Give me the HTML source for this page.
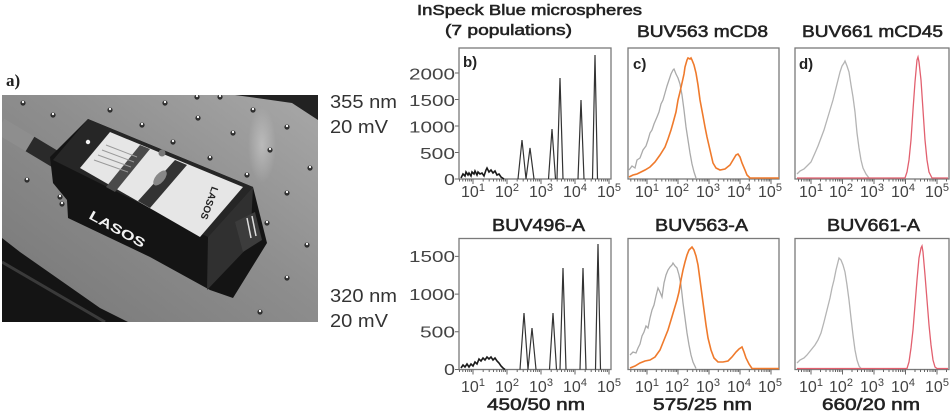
<!DOCTYPE html>
<html><head><meta charset="utf-8"><style>html,body{margin:0;padding:0;background:#fff;width:950px;height:415px;overflow:hidden}svg{display:block}</style></head>
<body>
<svg width="950" height="415" viewBox="0 0 950 415" xmlns="http://www.w3.org/2000/svg" font-family="'Liberation Sans', sans-serif">
<defs>
<clipPath id="ph"><rect x="2" y="95" width="316" height="227"/></clipPath>
<linearGradient id="tg" x1="1" y1="0" x2="0" y2="1"><stop offset="0" stop-color="#a8a8a8"/><stop offset="0.45" stop-color="#8e8e8e"/><stop offset="1" stop-color="#767676"/></linearGradient>
<radialGradient id="gl" cx="0.5" cy="0.5" r="0.5"><stop offset="0" stop-color="#d8d8d8" stop-opacity="0.5"/><stop offset="1" stop-color="#d8d8d8" stop-opacity="0"/></radialGradient>
</defs>
<rect width="950" height="415" fill="#fff"/>

<!-- PHOTO -->
<g clip-path="url(#ph)">
<rect x="2" y="95" width="316" height="227" fill="url(#tg)"/>
<ellipse cx="262" cy="145" rx="14" ry="38" fill="url(#gl)"/>
<polygon points="235,95 318,95 318,120 292,103" fill="#222"/>
<polygon points="2,238 2,322 128,322 100,308 60,280 20,252" fill="#141414"/>
<line x1="2" y1="262" x2="105" y2="322" stroke="#3a3a3a" stroke-width="3"/>
<!-- holes -->
<g fill="#2e2e2e">
<circle cx="23" cy="103" r="2.6"/><circle cx="53" cy="115" r="2.6"/><circle cx="110" cy="110" r="2.6"/><circle cx="165" cy="103" r="2.6"/><circle cx="197" cy="97" r="2.6"/><circle cx="220" cy="97" r="2.6"/><circle cx="253" cy="110" r="2.6"/><circle cx="287" cy="127" r="2.6"/><circle cx="142" cy="125" r="2.6"/><circle cx="173" cy="142" r="2.6"/><circle cx="198" cy="118" r="2.6"/><circle cx="233" cy="133" r="2.6"/><circle cx="270" cy="150" r="2.6"/><circle cx="210" cy="158" r="2.6"/><circle cx="247" cy="175" r="2.6"/><circle cx="310" cy="168" r="2.6"/><circle cx="287" cy="193" r="2.6"/><circle cx="27" cy="180" r="2.6"/><circle cx="60" cy="197" r="2.6"/><circle cx="267" cy="223" r="2.6"/><circle cx="307" cy="245" r="2.6"/><circle cx="287" cy="278" r="2.6"/><circle cx="260" cy="312" r="2.6"/><circle cx="62" cy="204" r="2.6"/>
</g>
<g fill="#f4f4f4">
<circle cx="23" cy="102" r="1.2"/><circle cx="53" cy="114" r="1.2"/><circle cx="110" cy="109" r="1.2"/><circle cx="165" cy="102" r="1.2"/><circle cx="197" cy="96" r="1.2"/><circle cx="220" cy="96" r="1.2"/><circle cx="253" cy="109" r="1.2"/><circle cx="287" cy="126" r="1.2"/><circle cx="142" cy="124" r="1.2"/><circle cx="173" cy="141" r="1.2"/><circle cx="198" cy="117" r="1.2"/><circle cx="233" cy="132" r="1.2"/><circle cx="270" cy="149" r="1.2"/><circle cx="210" cy="157" r="1.2"/><circle cx="247" cy="174" r="1.2"/><circle cx="310" cy="167" r="1.2"/><circle cx="287" cy="192" r="1.2"/><circle cx="27" cy="179" r="1.2"/><circle cx="60" cy="196" r="1.2"/><circle cx="267" cy="222" r="1.2"/><circle cx="307" cy="244" r="1.2"/><circle cx="287" cy="277" r="1.2"/><circle cx="260" cy="311" r="1.2"/><circle cx="62" cy="203" r="1.2"/>
</g>
<!-- cable -->
<line x1="0" y1="126" x2="55" y2="159" stroke="#8e8e8e" stroke-width="17"/>
<line x1="30" y1="144" x2="60" y2="162" stroke="#2a2a2a" stroke-width="17"/>
<!-- box silhouette -->
<polygon points="50,157 88,119 253,187 267,243 233,298 210,290 150,257 68,218 67,200 53,183" fill="#141414"/>
<polygon points="88,119 253,187 208,237 53,160" fill="#262626"/>
<polygon points="253,187 208,237 207,290 250,245" fill="#303030"/>
<polygon points="235,222 255,212 262,240 243,252" fill="#3c3c3c"/>
<line x1="247" y1="218" x2="251" y2="238" stroke="#ddd" stroke-width="1.5"/>
<line x1="252" y1="216" x2="256" y2="236" stroke="#ddd" stroke-width="1.5"/>
<circle cx="88" cy="142" r="2.2" fill="#f4f4f4"/>
<!-- label -->
<polygon points="110,132 243,187 200,237 80,168" fill="#e6e6e6"/>
<polygon points="175,160 187,165 150,208 138,201" fill="#333"/>
<polygon points="140,145 150,149 115,192 106,187" fill="#4a4a4a"/>
<g stroke="#999" stroke-width="1">
<line x1="94" y1="160" x2="128" y2="172"/><line x1="98" y1="155" x2="131" y2="167"/><line x1="102" y1="150" x2="134" y2="162"/><line x1="106" y1="145" x2="137" y2="157"/>
</g>
<circle cx="162" cy="153" r="3.5" fill="#777"/>
<ellipse cx="160" cy="178" rx="9" ry="4.5" fill="#888" transform="rotate(-50 160 178)"/>
<text x="0" y="0" font-size="10" font-weight="bold" fill="#222" transform="translate(212,186) rotate(110)" textLength="34" lengthAdjust="spacingAndGlyphs">LASOS</text>
<text x="0" y="0" font-size="13" font-weight="bold" fill="#f2f2f2" transform="translate(88,218) rotate(29)" textLength="62" lengthAdjust="spacingAndGlyphs">LASOS</text>
</g>

<!-- left labels -->
<text x="6" y="86" font-family="'Liberation Serif', serif" font-weight="bold" font-size="17" fill="#222">a)</text>
<g font-size="18" fill="#333">
<text x="330" y="108" textLength="67" lengthAdjust="spacingAndGlyphs">355 nm</text>
<text x="330" y="133" textLength="58" lengthAdjust="spacingAndGlyphs">20 mV</text>
<text x="330" y="302" textLength="67" lengthAdjust="spacingAndGlyphs">320 nm</text>
<text x="330" y="327" textLength="58" lengthAdjust="spacingAndGlyphs">20 mV</text>
</g>

<!-- titles -->
<g fill="#222" stroke="#222" stroke-width="0.55">
<text x="417" y="15" font-size="15" textLength="225" lengthAdjust="spacingAndGlyphs">InSpeck Blue microspheres</text>
<text x="445" y="35" font-size="15" textLength="127" lengthAdjust="spacingAndGlyphs">(7 populations)</text>
<text x="637" y="37" font-size="16.5" textLength="131" lengthAdjust="spacingAndGlyphs">BUV563 mCD8</text>
<text x="802" y="37" font-size="16.5" textLength="141" lengthAdjust="spacingAndGlyphs">BUV661 mCD45</text>
<text x="492" y="231" font-size="17.5" textLength="93" lengthAdjust="spacingAndGlyphs">BUV496-A</text>
<text x="655" y="231" font-size="17.5" textLength="93" lengthAdjust="spacingAndGlyphs">BUV563-A</text>
<text x="827" y="231" font-size="17.5" textLength="93" lengthAdjust="spacingAndGlyphs">BUV661-A</text>
<text x="487" y="410" font-size="16.5" textLength="98" lengthAdjust="spacingAndGlyphs">450/50 nm</text>
<text x="653" y="410" font-size="16.5" textLength="99" lengthAdjust="spacingAndGlyphs">575/25 nm</text>
<text x="822" y="410" font-size="16.5" textLength="98" lengthAdjust="spacingAndGlyphs">660/20 nm</text>
</g>
<g font-weight="bold" fill="#222">
<text x="463" y="67" font-size="15">b)</text>
<text x="633" y="69" font-size="15">c)</text>
<text x="799" y="69" font-size="15">d)</text>
</g>

<!-- y tick labels -->
<g font-size="16" fill="#444" text-anchor="end">
<text x="455" y="79.7" textLength="46" lengthAdjust="spacingAndGlyphs">2000</text>
<text x="455" y="106.2" textLength="46" lengthAdjust="spacingAndGlyphs">1500</text>
<text x="455" y="132.7" textLength="46" lengthAdjust="spacingAndGlyphs">1000</text>
<text x="455" y="159.2" textLength="35" lengthAdjust="spacingAndGlyphs">500</text>
<text x="455" y="185" textLength="11" lengthAdjust="spacingAndGlyphs">0</text>
<text x="455" y="262" textLength="46" lengthAdjust="spacingAndGlyphs">1500</text>
<text x="455" y="299.8" textLength="46" lengthAdjust="spacingAndGlyphs">1000</text>
<text x="455" y="337.5" textLength="35" lengthAdjust="spacingAndGlyphs">500</text>
<text x="455" y="375" textLength="11" lengthAdjust="spacingAndGlyphs">0</text>
</g>
<g stroke="#666" stroke-width="1">
<path d="M455,73 h4 M455,99.5 h4 M455,126 h4 M455,152.5 h4 M455,179 h4 M455,256.4 h4 M455,294.1 h4 M455,331.8 h4 M455,369.5 h4"/>
</g>

<!-- boxes -->
<g fill="none" stroke="#7a7a7a" stroke-width="1.3">
<rect x="459" y="48" width="152" height="131"/>
<rect x="628" y="48" width="151" height="131"/>
<rect x="795" y="48" width="154" height="131"/>
<rect x="459" y="238.5" width="152" height="131"/>
<rect x="628" y="238.5" width="151" height="131"/>
<rect x="795" y="238.5" width="154" height="131"/>
</g>

<!-- x ticks top row -->
<g stroke="#666" stroke-width="1" fill="none">
<path id="tb" d="M473,179v5M507,179v5M541,179v5M575,179v5M609,179v5 M459.5,179v2.5M462.8,179v2.5M465.5,179v2.5M467.7,179v2.5M469.7,179v2.5M471.4,179v2.5 M483.2,179v2.5M489.2,179v2.5M493.5,179v2.5M496.8,179v2.5M499.5,179v2.5M501.7,179v2.5M503.7,179v2.5M505.4,179v2.5 M517.2,179v2.5M523.2,179v2.5M527.5,179v2.5M530.8,179v2.5M533.5,179v2.5M535.7,179v2.5M537.7,179v2.5M539.4,179v2.5 M551.2,179v2.5M557.2,179v2.5M561.5,179v2.5M564.8,179v2.5M567.5,179v2.5M569.7,179v2.5M571.7,179v2.5M573.4,179v2.5 M585.2,179v2.5M591.2,179v2.5M595.5,179v2.5M598.8,179v2.5M601.5,179v2.5M603.7,179v2.5M605.7,179v2.5M607.4,179v2.5"/>
<path id="tc" d="M647,179v5M678,179v5M709,179v5M740,179v5M771,179v5 M630.8,179v2.5M634.7,179v2.5M637.7,179v2.5M640.1,179v2.5M642.2,179v2.5M644,179v2.5M645.6,179v2.5 M656.3,179v2.5M661.8,179v2.5M665.7,179v2.5M668.7,179v2.5M671.1,179v2.5M673.2,179v2.5M675,179v2.5M676.6,179v2.5 M687.3,179v2.5M692.8,179v2.5M696.7,179v2.5M699.7,179v2.5M702.1,179v2.5M704.2,179v2.5M706,179v2.5M707.6,179v2.5 M718.3,179v2.5M723.8,179v2.5M727.7,179v2.5M730.7,179v2.5M733.1,179v2.5M735.2,179v2.5M737,179v2.5M738.6,179v2.5 M749.3,179v2.5M754.8,179v2.5M758.7,179v2.5M761.7,179v2.5M764.1,179v2.5M766.2,179v2.5M768,179v2.5M769.6,179v2.5"/>
<path id="td" d="M811,179v5M842.5,179v5M874,179v5M905.5,179v5M937,179v5 M798.5,179v2.5M801.5,179v2.5M804,179v2.5M806.1,179v2.5M807.9,179v2.5M809.5,179v2.5 M820.5,179v2.5M826,179v2.5M830,179v2.5M833,179v2.5M835.5,179v2.5M837.6,179v2.5M839.4,179v2.5M841,179v2.5 M852,179v2.5M857.5,179v2.5M861.5,179v2.5M864.5,179v2.5M867,179v2.5M869.1,179v2.5M870.9,179v2.5M872.5,179v2.5 M883.5,179v2.5M889,179v2.5M893,179v2.5M896,179v2.5M898.5,179v2.5M900.6,179v2.5M902.4,179v2.5M904,179v2.5 M915,179v2.5M920.5,179v2.5M924.5,179v2.5M927.5,179v2.5M930,179v2.5M932.1,179v2.5M933.9,179v2.5M935.5,179v2.5M946.5,179v2.5"/>
</g>
<g stroke="#666" stroke-width="1" fill="none" transform="translate(0,190.5)">
<use href="#tb"/><use href="#tc"/><use href="#td"/>
</g>

<!-- x tick labels -->
<g font-size="16" fill="#444" text-anchor="middle">
<g id="xl">
<text x="473" y="197">10<tspan font-size="11" dy="-6">1</tspan></text>
<text x="507" y="197">10<tspan font-size="11" dy="-6">2</tspan></text>
<text x="541" y="197">10<tspan font-size="11" dy="-6">3</tspan></text>
<text x="575" y="197">10<tspan font-size="11" dy="-6">4</tspan></text>
<text x="609" y="197">10<tspan font-size="11" dy="-6">5</tspan></text>
<text x="647" y="197">10<tspan font-size="11" dy="-6">1</tspan></text>
<text x="677" y="197">10<tspan font-size="11" dy="-6">2</tspan></text>
<text x="708" y="197">10<tspan font-size="11" dy="-6">3</tspan></text>
<text x="739" y="197">10<tspan font-size="11" dy="-6">4</tspan></text>
<text x="770" y="197">10<tspan font-size="11" dy="-6">5</tspan></text>
<text x="811" y="197">10<tspan font-size="11" dy="-6">1</tspan></text>
<text x="841" y="197">10<tspan font-size="11" dy="-6">2</tspan></text>
<text x="872" y="197">10<tspan font-size="11" dy="-6">3</tspan></text>
<text x="903" y="197">10<tspan font-size="11" dy="-6">4</tspan></text>
<text x="937" y="197">10<tspan font-size="11" dy="-6">5</tspan></text>
</g>
<use href="#xl" transform="translate(0,195)"/>
</g>

<!-- panel b top -->
<path d="M461,178 L463,174 L465,176 L466,172 L468,175 L469,173 L471,176 L472,172 L474,174 L475,171 L477,175 L478,172 L480,174 L482,173 L484,176 L486,170 L487,168 L489,172 L491,170 L493,173 L495,171 L497,175 L499,174 L501,177 L504,179" fill="none" stroke="#1a1a1a" stroke-width="1.6"/>
<path d="M518,179 L522,140 L526,179 L530,148 L534,179 M548.5,179 L552,129 L555.5,179 M557,179 L560,78 L563,179 M578,179 L581,100 L584,179 M592.5,179 L595,55 L597.5,179" fill="none" stroke="#333" stroke-width="1.2"/>
<!-- panel b bottom -->
<path d="M461,368 L463,365 L465,367 L467,364 L469,367 L471,364 L473,366 L475,362 L477,364 L479,359 L481,361 L483,358 L485,360 L487,357 L489,359 L491,357 L493,360 L495,358 L497,361 L499,363 L501,366 L503,368 L505,369.5" fill="none" stroke="#1a1a1a" stroke-width="1.6"/>
<path d="M520,369.5 L524,313 L528,369.5 L532,328 L536,369.5 M549.5,369.5 L553,313 L556.5,369.5 M560,369.5 L563,268 L566,369.5 M580,369.5 L583,268 L586,369.5 M595.5,369.5 L598,244 L600.5,369.5" fill="none" stroke="#333" stroke-width="1.2"/>

<!-- panel c top -->
<polyline fill="none" stroke="#aaa" stroke-width="1.3" points="629,170 632,166 635,168 637,160 640,158 643,150 646,146 648,140 650,133 652,130 654,124 657,117 659,112 661,104 663,100 665,93 667,86 669,80 671,74 673,70 674,69 676,74 678,78 680,84 682,95 684,110 686,127 688,140 690,153 692,164 694,172 696,178"/>
<polyline fill="none" stroke="#ef7a2c" stroke-width="1.6" points="629,177 633,175 637,174 641,172 645,170 650,167 655,162 660,155 665,147 668,139 671,130 673,123 676,112 678,100 680,92 682,83 684,74 685,67 687,60 688,58 690,59 691,58 692,60 694,65 696,73 698,85 700,100 703,116 705,127 707,137 710,150 713,163 716,168 720,170 725,169 730,165 733,160 736,155 738,154 740,157 742,163 745,170 747,175 750,178 779,178"/>
<!-- panel d top -->
<polyline fill="none" stroke="#b4b4b4" stroke-width="1.3" points="797,174 800,171 804,169 808,165 811,162 815,153 818,146 821,138 824,130 827,120 830,110 833,100 836,88 838,80 840,72 842,66 844,63 845,61 847,66 849,72 851,85 853,97 855,112 857,133 859,148 861,160 863,168 866,174 869,178"/>
<polyline fill="none" stroke="#e2606f" stroke-width="1.3" points="797,178 905,178 907,172 909,160 911,140 913,110 915,82 917,60 918,57 919,62 921,80 923,110 925,140 927,160 929,172 932,178 948,178"/>
<!-- panel c bottom -->
<polyline fill="none" stroke="#aaa" stroke-width="1.3" points="630,355 633,352 636,353 638,348 640,344 642,336 644,332 646,326 648,328 650,318 652,310 654,305 656,296 658,288 660,292 662,297 664,283 666,275 668,270 670,267 672,265 673,263 675,266 677,268 679,275 681,285 683,303 685,318 687,333 689,345 691,355 693,362 696,368.5"/>
<polyline fill="none" stroke="#ef7a2c" stroke-width="1.6" points="630,368 635,366 640,363 645,361 650,360 655,357 660,350 664,340 668,330 671,320 674,310 677,300 679,292 681,280 683,270 685,262 687,255 689,250 692,247 694,250 696,256 698,265 700,280 702,295 704,310 706,325 708,338 711,350 714,358 718,362 723,362 728,361 732,357 736,352 739,349 742,347 744,352 746,358 749,364 752,368.5 779,368.5"/>
<!-- panel d bottom -->
<polyline fill="none" stroke="#b4b4b4" stroke-width="1.3" points="797,363 800,360 804,358 807,355 811,350 815,345 818,340 821,333 824,322 827,310 830,298 832,288 834,280 836,270 838,262 839,258 841,260 843,265 845,272 847,285 849,300 851,318 853,335 855,350 857,360 859,366 861,368.5"/>
<polyline fill="none" stroke="#e2606f" stroke-width="1.3" points="797,368.5 907,368.5 909,362 911,348 913,330 915,305 917,280 919,258 921,248 922,246 923,252 925,275 927,300 929,325 931,345 933,360 935,367 937,368.5 948,368.5"/>
</svg>
</body></html>
